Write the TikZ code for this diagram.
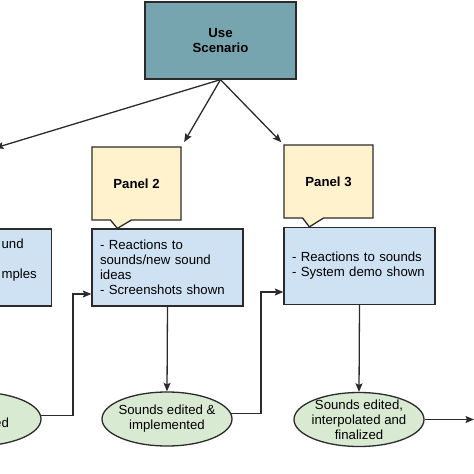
\documentclass[tikz,border=0pt]{standalone}
\usepackage{fontspec}
\setmainfont{Liberation Sans}
\usetikzlibrary{calc,shapes.geometric,shapes.callouts,arrows.meta}
\definecolor{usefill}{HTML}{76A5AF}
\definecolor{panelfill}{HTML}{FFF2CC}
\definecolor{notefill}{HTML}{CFE2F3}
\definecolor{resultfill}{HTML}{D9EAD3}
\definecolor{edge}{HTML}{2B2B2B}
\tikzset{
  usebox/.style={draw=edge,fill=usefill,line width=1.3pt,minimum width=151pt,minimum height=77pt,align=center,font=\bfseries},
  panel/.style={rectangle callout,draw=edge,fill=panelfill,line width=1.3pt,minimum width=89pt,minimum height=73pt,callout pointer width=21pt,font=\bfseries},
  notebox/.style={draw=edge,fill=notefill,line width=1.3pt,minimum width=151pt,minimum height=77pt,text width=135pt,align=left},
  result/.style={ellipse,draw=edge,fill=resultfill,line width=1.3pt,minimum width=130pt,minimum height=54pt,inner sep=0pt},
  flow/.style={draw=edge,line width=1.3pt,-{Stealth[length=8.5pt,width=7pt,inset=1.5pt]}},
}
\begin{document}
\fontsize{13.2}{15}\selectfont
\begin{tikzpicture}[x=1pt,y=-1pt]
        \useasboundingbox (0,0) rectangle (474,474);
        \clip (0,0) rectangle (474,474);
        \node[usebox] (use) at (220.5,40.5) {Use\\Scenario};
        \node[notebox] (box1) at (-24,267.5) {};
        \node[anchor=west,align=left] (box1txt) at (-3,260) {und\\[15pt]mples};
        \node[notebox] (box2) at (167.5,267.5) {- Reactions to\\sounds/new sound\\ideas\\- Screenshots shown};
        \node[notebox] (box3) at (359.5,266) {- Reactions to sounds\\- System demo shown};
        \node[panel,callout absolute pointer={($(box2.north west)+(26,0)$)}] (panel2) at (136.5,183.5) {Panel 2};
        \node[panel,callout absolute pointer={($(box3.north west)+(26,0)$)}] (panel3) at (328.5,181.5) {Panel 3};
        \node[result] (res1) at (-24,419) {};
        \node[anchor=east] (res1txt) at (13.5,423) {ed};
        \node[result,label={[align=center]center:Sounds edited \&\\implemented}] (res2) at (167,419) {};
        \node[result,label={[align=center]center:Sounds edited,\\interpolated and\\finalized}] (res3) at (359,419.5) {};
        \coordinate (lefttip) at (-5,148);
        \coordinate (bend1) at (73,294);
        \coordinate (bend2) at (261,292);
        \coordinate (exit) at (474,419.5);
        \draw[flow] (use.south) -- (lefttip);
        \draw[flow,shorten >=5pt] (use.south) -- (panel2.north east);
        \draw[flow,shorten >=3pt] (use.south) -- (panel3.north west);
        \draw[flow] (res1.3) -| (bend1) -- (bend1 -| box2.west);
        \draw[flow] (box2.south) -- (res2.north);
        \draw[flow] (res2.5) -| (bend2) -- (bend2 -| box3.west);
        \draw[flow] (box3.south) -- (res3.north);
        \draw[flow] (res3.east) -- (exit);
      \end{tikzpicture}
\end{document}
